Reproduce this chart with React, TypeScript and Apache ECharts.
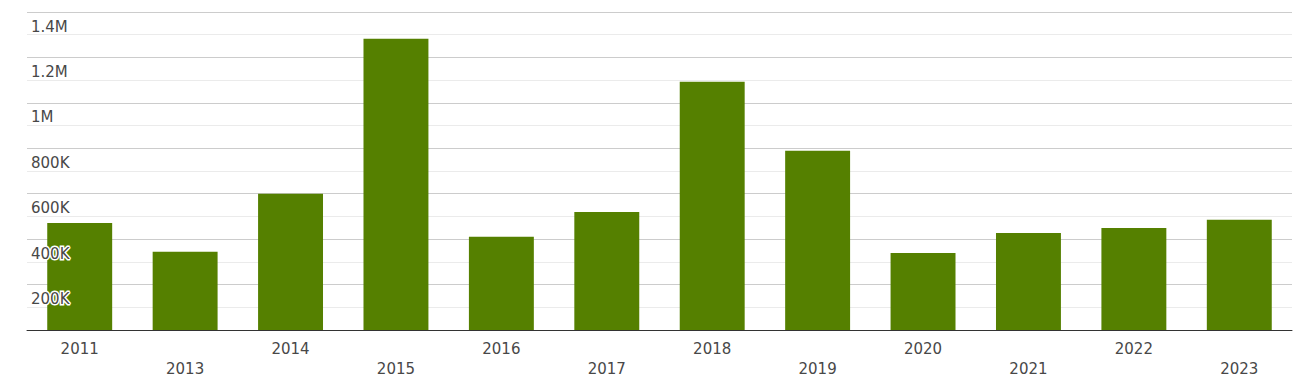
import React, { useEffect, useRef } from "react";
import * as echarts from "echarts";

const years = ["2011", "2013", "2014", "2015", "2016", "2017", "2018", "2019", "2020", "2021", "2022", "2023"];
const values = [471000, 344000, 600000, 1282000, 410000, 520000, 1093000, 789000, 339000, 427000, 449000, 485000];
const yMax = 1400000;
const yStep = 200000;

function fmt(v: number): string {
  if (v === 0) return "";
  if (v >= 1000000) return v / 1000000 + "M";
  return v / 1000 + "K";
}

export default function App() {
  const ref = useRef<HTMLDivElement>(null);
  useEffect(() => {
    if (!ref.current) return;
    const chart = echarts.init(ref.current, null, { renderer: "svg" });
    chart.setOption({
      animation: false,
      grid: { left: 27, right: 1, top: 12, bottom: 54, containLabel: false },
      xAxis: {
        type: "category",
        data: years,
        boundaryGap: true,
        z: 5,
        axisLine: { show: true, lineStyle: { color: "#333", width: 1 } },
        axisTick: { show: false },
        axisLabel: {
          interval: 0,
          color: "#484848",
          fontSize: 15,
          fontFamily: "DejaVu Sans",
          margin: 9,
          lineHeight: 20,
          formatter: (v: string, i: number) => (i % 2 === 1 ? "\n" + v : v),
        },
      },
      yAxis: [
        {
          type: "value",
          min: 0,
          max: yMax,
          interval: yStep,
          z: 0,
          axisLine: { show: false },
          axisTick: { show: false },
          axisLabel: { show: false },
          splitLine: { show: true, lineStyle: { color: "#cccccc", width: 1 } },
          minorTick: { show: false, splitNumber: 2 },
          minorSplitLine: { show: true, lineStyle: { color: "#ebebeb", width: 1 } },
        },
        {
          type: "value",
          position: "left",
          min: 0,
          max: yMax,
          interval: yStep,
          z: 10,
          axisLine: { show: false },
          axisTick: { show: false },
          splitLine: { show: false },
          axisLabel: {
            inside: true,
            margin: 4,
            verticalAlign: "top",
            padding: [7, 0, 0, 0],
            color: "#484848",
            fontSize: 15,
            fontFamily: "DejaVu Sans",
            textBorderColor: "#fff",
            textBorderWidth: 3,
            formatter: (v: number) => fmt(v),
          },
        },
      ],
      series: [
        {
          type: "bar",
          data: values,
          yAxisIndex: 0,
          barWidth: "61.6%",
          itemStyle: { color: "#558000" },
          z: 2,
        },
      ],
    });
    return () => chart.dispose();
  }, []);
  return <div ref={ref} style={{ width: 1293, height: 384, position: "absolute", left: 0, top: 0 }} />;
}
